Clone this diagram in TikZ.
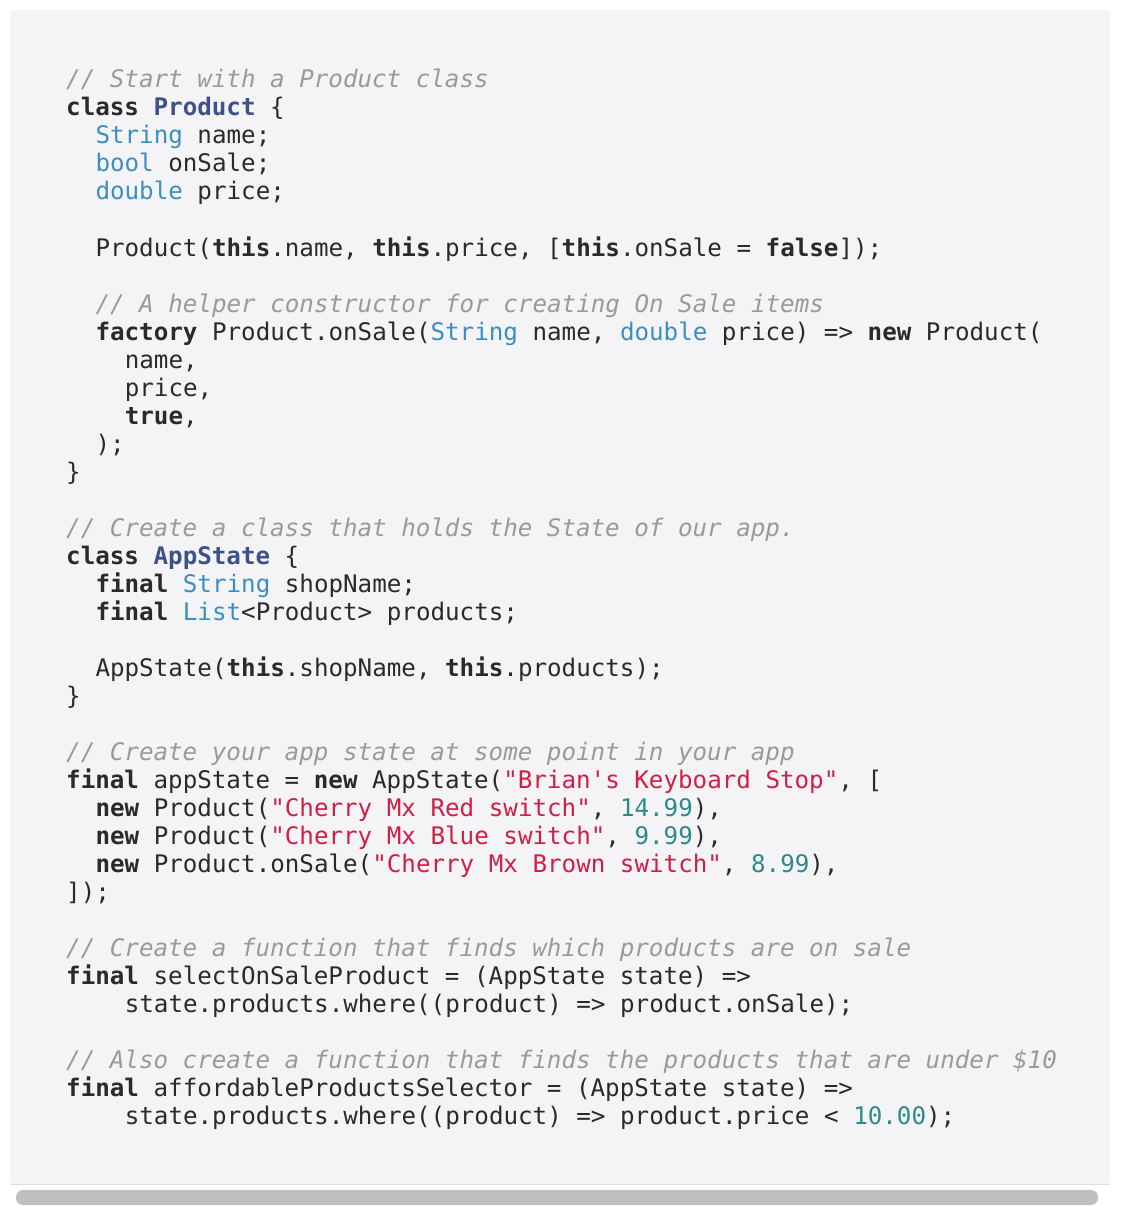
\documentclass[tikz,border=0pt]{standalone}
\usepackage{fontspec}
\setmonofont{DejaVu Sans Mono}
\definecolor{bgc}{HTML}{F4F4F6}
\definecolor{cmc}{HTML}{9A9A9A}
\definecolor{tyc}{HTML}{3B8EC2}
\definecolor{clc}{HTML}{3F5189}
\definecolor{stc}{HTML}{D01E45}
\definecolor{nmc}{HTML}{2E8A8A}
\definecolor{txc}{HTML}{2A2A2A}
\newcommand{\kw}[1]{\textbf{#1}}
\newcommand{\ty}[1]{\textcolor{tyc}{#1}}
\newcommand{\cm}[1]{\textcolor{cmc}{\itshape #1}}
\newcommand{\stx}[1]{\textcolor{stc}{#1}}
\newcommand{\nm}[1]{\textcolor{nmc}{#1}}
\newcommand{\cln}[1]{\textcolor{clc}{\textbf{#1}}}
\begin{document}
\begin{tikzpicture}[x=1pt,y=-1pt,
  ln/.style={anchor=base west,inner sep=0pt,text=txc,font=\ttfamily\fontsize{24.2}{28}\selectfont}]
\useasboundingbox (0,0) rectangle (1130,1206);
\fill[bgc,rounded corners=3pt] (10,10) rectangle (1110,1184);
\draw[gray!25,line width=1pt] (10,1184) -- (1110,1184);
\fill[gray!50,rounded corners=7pt] (16,1190) rectangle (1098,1205);
\def\cx{66}\def\cw{14.65}
\node[ln] (l0) at (\cx,88) {\cm{// Start with a Product class}};
\node[ln] (l1) at (\cx,116) {\kw{class} \cln{Product} \{};
\node[ln] (l2) at (\cx+2*\cw,144) {\ty{String} name;};
\node[ln] (l3) at (\cx+2*\cw,172) {\ty{bool} onSale;};
\node[ln] (l4) at (\cx+2*\cw,200) {\ty{double} price;};
\node[ln] (l6) at (\cx+2*\cw,256) {Product(\kw{this}.name, \kw{this}.price, [\kw{this}.onSale = \kw{false}]);};
\node[ln] (l8) at (\cx+2*\cw,312) {\cm{// A helper constructor for creating On Sale items}};
\node[ln] (l9) at (\cx+2*\cw,340) {\kw{factory} Product.onSale(\ty{String} name, \ty{double} price) => \kw{new} Product(};
\node[ln] (l10) at (\cx+4*\cw,368) {name,};
\node[ln] (l11) at (\cx+4*\cw,396) {price,};
\node[ln] (l12) at (\cx+4*\cw,424) {\kw{true},};
\node[ln] (l13) at (\cx+2*\cw,452) {);};
\node[ln] (l14) at (\cx,480) {\}};
\node[ln] (l16) at (\cx,536) {\cm{// Create a class that holds the State of our app.}};
\node[ln] (l17) at (\cx,564) {\kw{class} \cln{AppState} \{};
\node[ln] (l18) at (\cx+2*\cw,592) {\kw{final} \ty{String} shopName;};
\node[ln] (l19) at (\cx+2*\cw,620) {\kw{final} \ty{List}<Product> products;};
\node[ln] (l21) at (\cx+2*\cw,676) {AppState(\kw{this}.shopName, \kw{this}.products);};
\node[ln] (l22) at (\cx,704) {\}};
\node[ln] (l24) at (\cx,760) {\cm{// Create your app state at some point in your app}};
\node[ln] (l25) at (\cx,788) {\kw{final} appState = \kw{new} AppState(\stx{"Brian's Keyboard Stop"}, [};
\node[ln] (l26) at (\cx+2*\cw,816) {\kw{new} Product(\stx{"Cherry Mx Red switch"}, \nm{14.99}),};
\node[ln] (l27) at (\cx+2*\cw,844) {\kw{new} Product(\stx{"Cherry Mx Blue switch"}, \nm{9.99}),};
\node[ln] (l28) at (\cx+2*\cw,872) {\kw{new} Product.onSale(\stx{"Cherry Mx Brown switch"}, \nm{8.99}),};
\node[ln] (l29) at (\cx,900) {]);};
\node[ln] (l31) at (\cx,956) {\cm{// Create a function that finds which products are on sale}};
\node[ln] (l32) at (\cx,984) {\kw{final} selectOnSaleProduct = (AppState state) =>};
\node[ln] (l33) at (\cx+4*\cw,1012) {state.products.where((product) => product.onSale);};
\node[ln] (l35) at (\cx,1068) {\cm{// Also create a function that finds the products that are under \$10}};
\node[ln] (l36) at (\cx,1096) {\kw{final} affordableProductsSelector = (AppState state) =>};
\node[ln] (l37) at (\cx+4*\cw,1124) {state.products.where((product) => product.price < \nm{10.00});};
\end{tikzpicture}
\end{document}
